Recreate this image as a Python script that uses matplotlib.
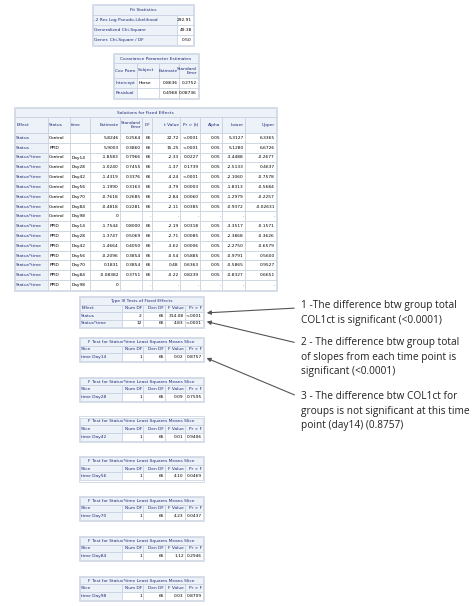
import matplotlib.pyplot as plt
from matplotlib.patches import Rectangle

fit_labels = ["-2 Res Log Pseudo-Likelihood", "Generalized Chi-Square", "Gener. Chi-Square / DF"]
fit_values = ["292.91", "49.38", "0.50"]

cov_header = ["Cov Parm", "Subject", "Estimate", "Standard\nError"]
cov_rows = [["Intercept", "Horse", "0.8636", "0.2752"],
            ["Residual", "", "0.4968", "0.08736"]]

sol_header = ["Effect", "Status", "time", "Estimate", "Standard\nError", "DF", "t Value",
              "Pr > |t|", "Alpha", "Lower", "Upper"]
sol_status = ["Control", "PPID"] + ["Control"] * 7 + ["PPID"] * 7
sol_time = ["", "", "Day14", "Day28", "Day42", "Day56", "Day70", "Day84", "Day98",
            "Day14", "Day28", "Day42", "Day56", "Day70", "Day84", "Day98"]
sol_est = ["5.8246", "5.9003", "-1.8583", "-1.0240", "-1.4319", "-1.1990", "-0.7618", "-0.4818", "0",
           "-1.7544", "-1.3747", "-1.4664", "-0.2096", "0.1831", "-0.08382", "0"]
sol_se = ["0.2564", "0.3860", "0.7966", "0.7455", "0.3376", "0.3163", "0.2685", "0.2281", "",
          "0.8000", "0.5069", "0.4050", "0.3854", "0.3854", "0.3751", ""]
sol_t = ["22.72", "15.25", "-2.33", "-1.37", "-4.24", "-3.79", "-2.84", "-2.11", "",
         "-2.19", "-2.71", "-3.62", "-0.54", "0.48", "-0.22", ""]
sol_p = ["<.0001", "<.0001", "0.0227", "0.1739", "<.0001", "0.0003", "0.0060", "0.0385", "",
         "0.0318", "0.0085", "0.0006", "0.5885", "0.6363", "0.8239", ""]
sol_lower = ["5.3127", "5.1280", "-3.4488", "-2.5133", "-2.1060", "-1.8313", "-1.2979", "-0.9372", "",
             "-3.3517", "-2.3868", "-2.2750", "-0.9791", "-0.5865", "-0.8327", ""]
sol_upper = ["6.3365", "6.6726", "-0.2677", "0.4637", "-0.7578", "-0.5684", "-0.2257", "-0.02631", "",
             "-0.1571", "-0.3626", "-0.6579", "0.5600", "0.9527", "0.6651", ""]

t3_header = ["Effect", "Num DF", "Den DF", "F Value", "Pr > F"]
t3_rows = [["Status", "2", "66", "314.08", "<.0001"],
           ["Status*time", "12", "66", "4.83", "<.0001"]]

slice_days = ["Day14", "Day28", "Day42", "Day56", "Day70", "Day84", "Day98"]
slice_f = ["0.02", "0.09", "0.01", "4.10", "4.23", "1.12", "0.03"]
slice_p = ["0.8757", "0.7595", "0.9406", "0.0469", "0.0437", "0.2946", "0.8709"]

notes = [
    "1 -The difference btw group total\nCOL1ct is significant (<0.0001)",
    "2 - The difference btw group total\nof slopes from each time point is\nsignificant (<0.0001)",
    "3 - The difference btw COL1ct for\ngroups is not significant at this time\npoint (day14) (0.8757)",
]

HEAD_BG = "#edf1f8"
EDGE = "#c5cfe0"
NAVY = "#1f2f7a"
FS = 3.2

fig = plt.figure(figsize=(4.74, 6.06), dpi=100)
ax = fig.add_axes([0, 0, 1, 1])
ax.set_xlim(0, 474)
ax.set_ylim(606, 0)
ax.axis("off")


def cell(x0, x1, y0, y1, text, bg="white", color="black", ha="right"):
    ax.add_patch(Rectangle((x0, y0), x1 - x0, y1 - y0, facecolor=bg, edgecolor=EDGE, lw=0.5))
    if ha == "right":
        tx = x1 - 1.2
    elif ha == "left":
        tx = x0 + 1.2
    else:
        tx = (x0 + x1) / 2
    ax.text(tx, (y0 + y1) / 2, text, ha=ha, va="center", fontsize=FS, color=color,
            linespacing=1.0)


def table(edges, y, title, title_h, header, header_h, rows, row_h, left_cols=(0,)):
    ax.add_patch(Rectangle((edges[0] - 1.2, y - 1.2), edges[-1] - edges[0] + 2.4,
                           title_h + header_h + row_h * len(rows) + 2.4,
                           facecolor="white", edgecolor=EDGE, lw=0.5))
    if title:
        cell(edges[0], edges[-1], y, y + title_h, title, HEAD_BG, NAVY, "center")
        y += title_h
    if header:
        for i, h in enumerate(header):
            cell(edges[i], edges[i + 1], y, y + header_h, h, HEAD_BG, NAVY,
                 "left" if i in left_cols else "right")
        y += header_h
    for r in rows:
        for i, v in enumerate(r):
            if i == 0:
                cell(edges[i], edges[i + 1], y, y + row_h, v, HEAD_BG, NAVY, "left")
            else:
                cell(edges[i], edges[i + 1], y, y + row_h, v, "white", "black",
                     "left" if i in left_cols else "right")
        y += row_h


# Fit statistics
table([93, 177, 193], 5, "Fit Statistics", 10, None, 0,
      [[a, b] for a, b in zip(fit_labels, fit_values)], 10)

# Covariance parameters
table([114, 137, 159, 179, 198], 54, "Covariance Parameter Estimates", 9,
      cov_header, 15, cov_rows, 10, left_cols=(0, 1))

# Solutions for fixed effects
sol_edges = [15, 48, 70, 90, 120, 142, 152, 180, 200, 222, 245, 276]
sol_rows = []
for i in range(len(sol_est)):
    eff = "Status" if sol_time[i] == "" else "Status*time"
    sol_rows.append([eff, sol_status[i], sol_time[i], sol_est[i], sol_se[i],
                     "66" if sol_se[i] else ".", sol_t[i] or ".", sol_p[i] or ".",
                     "0.05" if sol_se[i] else ".", sol_lower[i] or ".", sol_upper[i] or "."])
table(sol_edges, 108, "Solutions for Fixed Effects", 9, sol_header, 16, sol_rows, 9.8,
      left_cols=(0, 1, 2))

# Type III tests
t3_edges = [80, 122, 143, 165, 185, 203]
table(t3_edges, 297, "Type III Tests of Fixed Effects", 7.5, t3_header, 7.5, t3_rows, 7.5)

# Slice tables
slice_y = []
for k, (d, f, p) in enumerate(zip(slice_days, slice_f, slice_p)):
    y = 338 + k * 39.8
    slice_y.append(y)
    table(t3_edges, y, "F Test for Status*time Least Squares Means Slice", 7.5,
          ["Slice", "Num DF", "Den DF", "F Value", "Pr > F"], 7.5,
          [["time " + d, "1", "66", f, p]], 8)

# Annotations
note_y = [300, 337, 391]
for y, s in zip(note_y, notes):
    ax.text(301, y, s, ha="left", va="top", fontsize=7.3, family="Open Sans",
            color="#222222", linespacing=1.45)

arrow_targets = [(204, 313), (204, 321), (204, slice_y[0] + 19)]
arrow_starts = [(297, 308), (297, 343), (297, 396)]
for (sx, sy), (tx, ty) in zip(arrow_starts, arrow_targets):
    ax.annotate("", xy=(tx, ty), xytext=(sx, sy),
                arrowprops=dict(arrowstyle="-|>", color="#555555", lw=0.8, mutation_scale=6))

fig.savefig("out.png", dpi=100)
